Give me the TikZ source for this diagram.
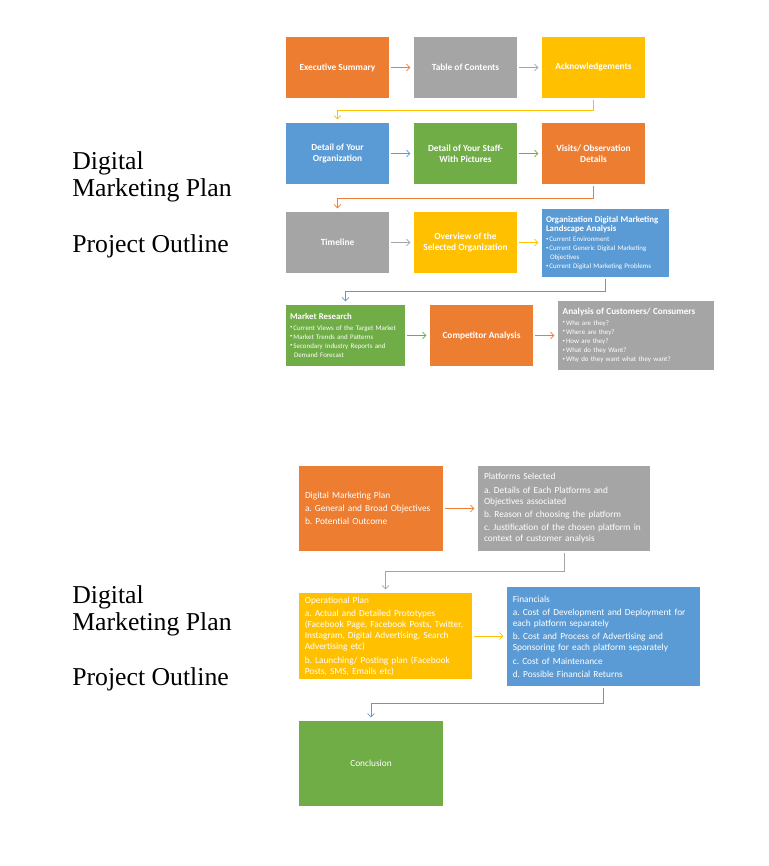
\documentclass[tikz,border=0pt]{standalone}
\usepackage{fontspec}
\setmainfont{Carlito}
\newfontfamily\outlinefont{Liberation Serif}
\usepackage{tikz}
\usetikzlibrary{arrows.meta}
\usetikzlibrary{positioning}
\frenchspacing

\definecolor{offorange}{HTML}{ED7D31}
\definecolor{offgray}{HTML}{A5A5A5}
\definecolor{offgold}{HTML}{FFC000}
\definecolor{offblue}{HTML}{5B9BD5}
\definecolor{offgreen}{HTML}{70AD47}

\newcommand{\itm}{{\fontsize{3.5}{4}\selectfont\raisebox{1pt}{\textbullet}}\,}
\newcommand{\tsz}{\fontsize{7}{8.5}\selectfont\bfseries}
\newcommand{\bsz}{\fontsize{5.2}{6.8}\selectfont}
\newcommand{\lsz}{\fontsize{7}{8.4}\selectfont}

\tikzstyle{box}=[rectangle, text=white, inner sep=0pt, align=center, font=\tsz, minimum width=77.25pt, minimum height=45.75pt]
\tikzstyle{listbox}=[rectangle, text=white, inner sep=0pt, align=left, font=\bsz]
\tikzstyle{planbox}=[rectangle, text=white, inner sep=0pt, align=left, font=\lsz]
\tikzstyle{flow}=[line width=0.6pt, -{Straight Barb[length=2.5pt,width=5pt]}, shorten <=1.5pt, shorten >=2.5pt]
\tikzstyle{title}=[anchor=base west, inner sep=0pt, font=\outlinefont\fontsize{19.3}{20}\selectfont]

\begin{document}
\begin{tikzpicture}[x=0.75pt, y=-0.75pt]

        \useasboundingbox (0,0) rectangle (768,866);

        % first outline
        \node [title] (lt1) at (72,170) {Digital};
        \node [title] (lt2) at (72,197) {Marketing Plan};
        \node [title] (lt3) at (72,252) {Project Outline};

        \node [box, fill=offorange] (es) at (337.5,67.5) {Executive Summary};
        \node [box, fill=offgray] (toc) at (465.5,67.5) {Table of Contents};
        \node [box, fill=offgold] (ack) at (593.5,67.5) {Acknowledgements};

        \node [box, fill=offblue] (org) at (337.5,153.5) {Detail of Your\\Organization};
        \node [box, fill=offgreen] (staff) at (465.5,153.5) {Detail of Your Staff-\\With Pictures};
        \node [box, fill=offorange] (visit) at (593.5,153.5) {Visits/ Observation\\Details};

        \node [box, fill=offgray] (time) at (337.5,242.5) {Timeline};
        \node [box, fill=offgold] (over) at (465.5,242.5) {Overview of the\\Selected Organization};
        \node [listbox, fill=offblue, minimum width=95.25pt, minimum height=51pt, text width=89.25pt] (land) at (605.5,243) {{\fontsize{6.6}{7.8}\selectfont\bfseries Organization Digital Marketing\\ Landscape Analysis}\\[1pt]
          \itm Current Environment\\
          \itm Current Generic Digital Marketing\\
          \hspace*{3pt}Objectives\\
          \itm Current Digital Marketing Problems};

        \node [listbox, fill=offgreen, minimum width=89.25pt, minimum height=45.75pt, text width=83.25pt] (mr) at (345.5,335.5) {{\fontsize{6.6}{8}\selectfont\bfseries Market Research}\\[1pt]
          \itm Current Views of the Target Market\\
          \itm Market Trends and Patterns\\
          \itm Secondary Industry Reports and\\
          \hspace*{3pt}Demand Forecast};
        \node [box, fill=offorange] (comp) at (481.5,335.5) {Competitor Analysis};
        \node [listbox, fill=offgray, minimum width=117pt, minimum height=51.75pt, text width=110pt] (cust) at (636,335.5) {{\fontsize{6.9}{8.4}\selectfont\bfseries Analysis of Customers/ Consumers}\\[1pt]
          \itm Who are they?\\
          \itm Where are they?\\
          \itm How are they?\\
          \itm What do they Want?\\
          \itm Why do they want what they want?};

        \draw [flow, offorange] (es) -- (toc);
        \draw [flow, offgray] (toc) -- (ack);
        \draw [flow, offgold] (ack.south) -- ++(0,12) -| (org.north);
        \draw [flow, offblue] (org) -- (staff);
        \draw [flow, offgreen] (staff) -- (visit);
        \draw [flow, offorange] (visit.south) -- ++(0,14) -| (time.north);
        \draw [flow, offgray] (time) -- (over);
        \draw [flow, offgold] (over) -- (land.west |- over);
        \draw [flow, offblue] (land.south) -- ++(0,14) -| (mr.north);
        \draw [flow, offgreen] (mr) -- (comp);
        \draw [flow, offorange] (comp) -- (cust.west |- comp);

        % second outline
        \node [title] (lb1) at (72,603) {Digital};
        \node [title] (lb2) at (72,630) {Marketing Plan};
        \node [title] (lb3) at (72,685) {Project Outline};

        \node [planbox, fill=offorange, minimum width=108pt, minimum height=63.75pt, text width=99pt] (plan) at (371,508.5) {Digital Marketing Plan\\[1.5pt]
          a. General and Broad Objectives\\[1.5pt]
          b. Potential Outcome};
        \node [planbox, fill=offgray, minimum width=129pt, minimum height=63.75pt, text width=120pt] (plat) at (564,508.5) {Platforms Selected\\[1.5pt]
          a. Details of Each Platforms and\\Objectives associated\\[1.5pt]
          b. Reason of choosing the platform\\[1.5pt]
          c. Justification of the chosen platform in\\context of customer analysis};
        \node [planbox, fill=offgold, minimum width=129.75pt, minimum height=64.5pt, text width=121pt] (oper) at (385.5,636) {Operational Plan\\[1.5pt]
          a. Actual and Detailed Prototypes\\(Facebook Page, Facebook Posts, Twitter,\\Instagram, Digital Advertising, Search\\Advertising etc)\\[1.5pt]
          b. Launching/ Posting plan (Facebook\\Posts, SMS, Emails etc)};
        \node [planbox, fill=offblue, minimum width=144.75pt, minimum height=74.25pt, text width=136pt] (fin) at (603.5,636.5) {Financials\\[1.5pt]
          a. Cost of Development and Deployment for\\each platform separately\\[1.5pt]
          b. Cost and Process of Advertising and\\Sponsoring for each platform separately\\[1.5pt]
          c. Cost of Maintenance\\[1.5pt]
          d. Possible Financial Returns};
        \node [box, font=\lsz, fill=offgreen, minimum width=108pt, minimum height=63.75pt] (conc) at (371,763.5) {Conclusion};

        \draw [flow, offorange] (plan) -- (plat);
        \draw [flow, offgray] (plat.south) -- ++(0,20) -| (oper.north);
        \draw [flow, offgold] (oper) -- (fin.west |- oper);
        \draw [flow, offblue] (fin.south) -- ++(0,17) -| (conc.north);

    \end{tikzpicture}
\end{document}
